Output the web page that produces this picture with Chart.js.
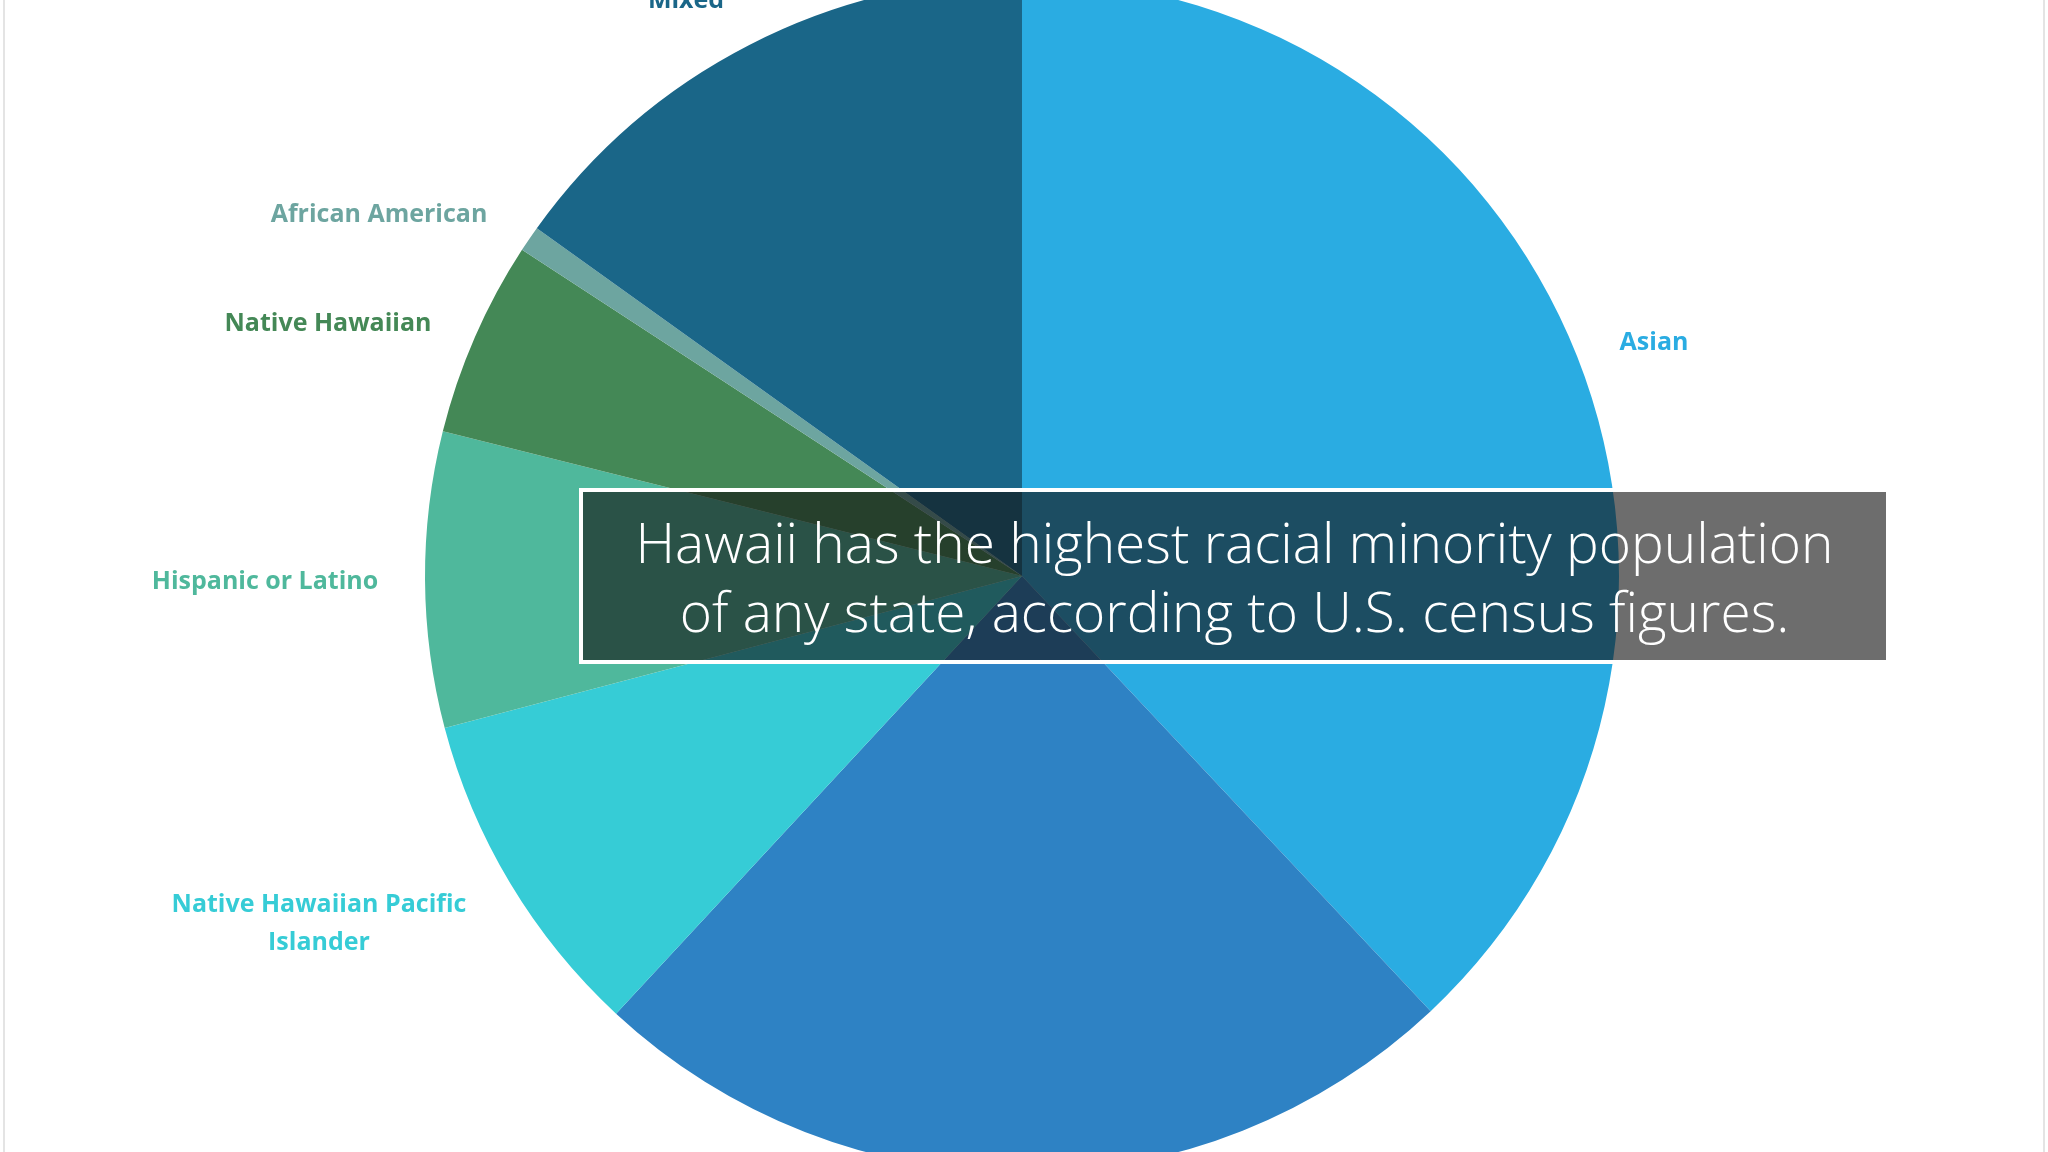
<!DOCTYPE html>
<html><head><meta charset="utf-8">
<script src="https://cdn.jsdelivr.net/npm/chart.js"></script>
<style>
html,body{margin:0;padding:0;width:2048px;height:1152px;overflow:hidden;background:#fff;font-family:"Open Sans",sans-serif;}
#wrap{position:absolute;left:0;top:0;width:2048px;height:1152px;overflow:hidden;}
#cv{position:absolute;left:372px;top:-74px;}
.lbl{position:absolute;font-family:"Open Sans",sans-serif;font-weight:700;font-size:25px;text-align:center;white-space:nowrap;transform:translate(-50%,-50%);}
#box{position:absolute;left:579px;top:488px;width:1303px;height:168px;border:4px solid #fff;background:rgba(20,20,20,0.62);color:#fff;font-size:55px;line-height:69px;text-align:center;display:flex;align-items:center;justify-content:center;font-weight:300;}
.edge{position:absolute;top:0;width:2px;height:1152px;background:#e4e4e4;}
</style></head><body>
<div id="wrap">
<canvas id="cv" width="1300" height="1300"></canvas>
<div class="edge" style="left:3px"></div>
<div class="edge" style="left:2043px"></div>
<div id="labels"></div>
<div id="box"><div>Hawaii has the highest racial minority population<br>of any state, according to U.S. census figures.</div></div>
</div>
<script>
const categories=["Asian","White","Native Hawaiian Pacific Islander","Hispanic or Latino","Native Hawaiian","African American","Mixed"];
const values=[38.0,23.9,9.0,8.0,5.3,0.7,15.1];
const colors=["#2aace2","#2e82c4","#36ccd6","#4fb89c","#448856","#6da5a0","#1a6688"];
const labelText=["Asian","","Native Hawaiian Pacific<br>Islander","Hispanic or Latino","Native Hawaiian","African American","Mixed"];
const labelPos=[[1654,340],null,[319,921],[265,579],[328,321],[379,212],[686,-2]];
const lc=document.getElementById('labels');
labelText.forEach((t,i)=>{if(!labelPos[i])return;const d=document.createElement('div');d.className='lbl';d.innerHTML=t;d.style.left=labelPos[i][0]+'px';d.style.top=labelPos[i][1]+'px';d.style.color=colors[i];d.style.lineHeight='38px';lc.appendChild(d);});
new Chart(document.getElementById('cv'),{type:'pie',
data:{labels:categories,datasets:[{data:values,backgroundColor:colors,borderWidth:0}]},
options:{responsive:false,animation:false,layout:{padding:53},
plugins:{legend:{display:false},tooltip:{enabled:false}}}});
</script>
</body></html>
